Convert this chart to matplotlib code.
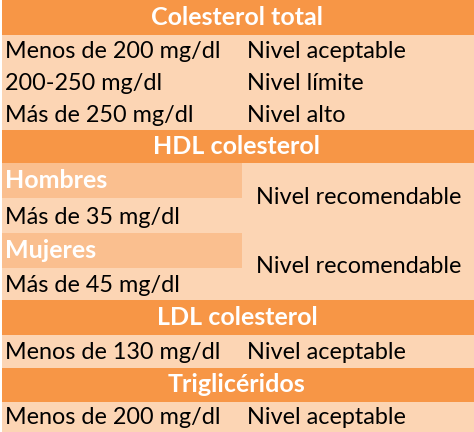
import matplotlib.pyplot as plt
from matplotlib.patches import Rectangle

DARK = '#F79646'
MID = '#FABF8F'
LIGHT = '#FCD5B4'

# section headers (text, top, bottom)
headers = [('Colesterol total', 0, 35), ('HDL colesterol', 130, 163),
           ('LDL colesterol', 300, 335), ('Triglicéridos', 368, 402)]
# plain rows (left, right, top, bottom)
rows = [('Menos de 200 mg/dl', 'Nivel aceptable', 35, 67),
        ('200-250 mg/dl', 'Nivel límite', 67, 99),
        ('Más de 250 mg/dl', 'Nivel alto', 99, 130),
        ('Menos de 130 mg/dl', 'Nivel aceptable', 335, 368),
        ('Menos de 200 mg/dl', 'Nivel aceptable', 402, 432)]
# HDL groups (group label, value, right text, top, mid, bottom)
groups = [('Hombres', 'Más de 35 mg/dl', 'Nivel recomendable', 163, 198, 233),
          ('Mujeres', 'Más de 45 mg/dl', 'Nivel recomendable', 233, 268, 300)]

W, H = 474, 432
fig = plt.figure(figsize=(W / 100, H / 100), dpi=100)
ax = fig.add_axes([0, 0, 1, 1])
ax.set_xlim(0, W)
ax.set_ylim(H, 0)
ax.axis('off')
font = 'Lato'
fs = 16.8

ax.add_patch(Rectangle((2, 0), W - 2, H, color=LIGHT, lw=0))
for t, y0, y1 in headers:
    ax.add_patch(Rectangle((2, y0), W - 2, y1 - y0, color=DARK, lw=0))
    ax.text(W / 2, (y0 + y1) / 2, t, ha='center', va='center', color='white',
            fontsize=18, fontweight='bold', family=font)
for l, r, y0, y1 in rows:
    ax.text(5, (y0 + y1) / 2 + 1, l, va='center', fontsize=fs, family=font)
    ax.text(247, (y0 + y1) / 2 + 1, r, va='center', fontsize=fs, family=font)
for g, v, r, y0, ym, y1 in groups:
    ax.add_patch(Rectangle((2, y0), 240, ym - y0, color=MID, lw=0))
    ax.text(5, (y0 + ym) / 2, g, va='center', color='white', fontsize=18,
            fontweight='bold', family=font)
    ax.text(5, (ym + y1) / 2 + 2, v, va='center', fontsize=fs, family=font)
    ax.text(359, (y0 + y1) / 2, r, ha='center', va='center', fontsize=fs, family=font)

fig.savefig('out.png', dpi=100)
